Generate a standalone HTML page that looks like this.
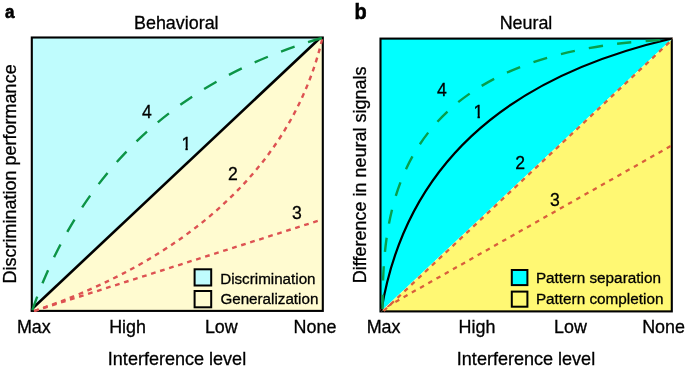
<!DOCTYPE html>
<html lang="en">
<head>
<meta charset="utf-8">
<title>Behavioral and neural discrimination</title>
<style>
html,body{margin:0;padding:0;background:#fff;}
body{width:685px;height:369px;overflow:hidden;}
svg{display:block;}
text{font-family:"Liberation Sans",Arial,Helvetica,sans-serif;fill:#000;stroke:#000;stroke-width:0.3px;}
.t{font-size:17.9px;}
.lg{font-size:15.2px;}
.n{font-size:17.6px;}
.pl{font-size:20.5px;font-weight:bold;fill:#000;}
.grn{fill:none;stroke:#0c9446;stroke-width:2.4;stroke-dasharray:14.3 14.28;stroke-dashoffset:-1;}
.red{fill:none;stroke:#dd5252;stroke-width:2.4;stroke-dasharray:4.75 4.7;}
.rb{stroke:#d95f3c;stroke-width:2.3;stroke-dasharray:4.5 4.95;}
.blk{fill:none;stroke:#000;stroke-width:2.6;}
</style>
</head>
<body>
<svg width="685" height="369" viewBox="0 0 685 369">
<rect x="0" y="0" width="685" height="369" fill="#ffffff"/>

<!-- ================= Panel a ================= -->
<defs><clipPath id="clipA"><rect x="30.8" y="36.5" width="293" height="275.4"/></clipPath><clipPath id="clipB"><rect x="379.3" y="37.6" width="293.5" height="274.7"/></clipPath><clipPath id="oneA"><rect x="176.30" y="129.70" width="20" height="17.60"/><rect x="185.42" y="145.70" width="2.35" height="5"/></clipPath><clipPath id="oneB"><rect x="468.40" y="98.00" width="20" height="17.60"/><rect x="477.52" y="114.00" width="2.35" height="5"/></clipPath></defs>
<g id="panel-a">
  <rect x="31.8" y="37.5" width="291" height="273.4" fill="#fffbd0"/>
  <polygon points="31.8,37.5 320.3,37.5 31.8,308.9" fill="#bffcfd"/>
  <rect x="31.8" y="37.5" width="291" height="273.4" fill="none" stroke="#000" stroke-width="2.1"/>
  <!-- curves -->
  <g clip-path="url(#clipA)">
  <path class="blk" d="M29.8 311 L320.3 37.8"/>
  <path class="red" style="stroke-dashoffset:6.3" d="M31 312 L321.6 219.7"/>
  <path class="red" style="stroke-dasharray:4.78 4.73;stroke-dashoffset:5.9" d="M31 312.3 C58.7 301.2 275.5 238.8 322.5 37.8"/>
  <path class="grn" d="M32 311 C75.8 184.5 162.6 83.8 322.5 37.8"/>
  </g>
  <!-- curve labels -->
  <text class="n" x="147" y="117.5" text-anchor="middle">4</text>
  <text class="n" x="186.3" y="149.7" text-anchor="middle" clip-path="url(#oneA)">1</text>
  <text class="n" x="232.9" y="180.1" text-anchor="middle">2</text>
  <text class="n" x="296.8" y="218.6" text-anchor="middle">3</text>
  <!-- legend -->
  <rect x="194.6" y="269.3" width="16.6" height="16.2" fill="#bffcfd" stroke="#000" stroke-width="2"/>
  <rect x="194.6" y="291" width="16.6" height="16.3" fill="#fffbd0" stroke="#000" stroke-width="2"/>
  <text class="lg" x="220.2" y="283.5">Discrimination</text>
  <text class="lg" x="220.4" y="304">Generalization</text>
  <!-- titles / axes -->
  <text class="pl" transform="translate(5.1,18.35) scale(0.92,1)" style="font-size:18.5px;stroke-width:0.6px">a</text>
  <text class="t" x="176.3" y="28.5" text-anchor="middle">Behavioral</text>
  <text class="t" style="font-size:18px" transform="translate(16,173.9) rotate(-90)" text-anchor="middle">Discrimination performance</text>
  <text class="t" x="33.85" y="332.7" text-anchor="middle">Max</text>
  <text class="t" x="127.6" y="332.7" text-anchor="middle">High</text>
  <text class="t" x="221.3" y="332.7" text-anchor="middle">Low</text>
  <text class="t" x="315" y="332.7" text-anchor="middle">None</text>
  <text class="t" style="font-size:18.05px" x="177" y="365" text-anchor="middle">Interference level</text>
</g>

<!-- ================= Panel b ================= -->
<g id="panel-b">
  <rect x="380.3" y="38.6" width="291.5" height="272.7" fill="#fff873"/>
  <path d="M379.9 312.4 L379.9 38.6 L672.6 38.6 Z" fill="#00ffff" clip-path="url(#clipB)"/>
  <rect x="380.5" y="38.6" width="291.3" height="272.8" fill="none" stroke="#000" stroke-width="2.1"/>
  <!-- curves -->
  <g clip-path="url(#clipB)">
  <path class="red rb" style="stroke-dashoffset:1.8" d="M380.5 310.3 L672 145.3"/>
  <path d="M381.6 311 L672.8 38.5" fill="none" stroke="#eaffd8" stroke-width="0.9" opacity="0.8"/>
  <path class="red rb" style="stroke-dashoffset:-1" d="M383 311.5 L673.3 38.5"/>
  <path class="blk" style="stroke-width:2.2" d="M381.3 311 C409.1 140.5 538.6 69.3 672 38.5"/>
  <path class="grn" style="stroke-dashoffset:-2;stroke:#089e4c" d="M382.6 311 C382.6 210.6 390.6 49.6 672 39.6"/>
  </g>
  <!-- curve labels -->
  <text class="n" x="441.9" y="96.1" text-anchor="middle">4</text>
  <text class="n" x="478.4" y="118" text-anchor="middle" clip-path="url(#oneB)">1</text>
  <text class="n" x="520.2" y="168.6" text-anchor="middle">2</text>
  <text class="n" x="554.8" y="205.9" text-anchor="middle">3</text>
  <!-- legend -->
  <rect x="511.8" y="270" width="15.6" height="15.1" fill="#00ffff" stroke="#000" stroke-width="2"/>
  <rect x="511.8" y="291.6" width="15.6" height="15.1" fill="#fff873" stroke="#000" stroke-width="2"/>
  <text class="lg" style="font-size:15.3px" x="535.9" y="282.8">Pattern separation</text>
  <text class="lg" style="font-size:15.3px" x="535.9" y="303.6">Pattern completion</text>
  <!-- titles / axes -->
  <text class="pl" transform="translate(354.5,18.9) scale(0.94,1)" style="font-size:21.2px;stroke-width:0.55px">b</text>
  <text class="t" x="526" y="28.5" text-anchor="middle">Neural</text>
  <text class="t" style="font-size:18px" transform="translate(366,174.9) rotate(-90)" text-anchor="middle">Difference in neural signals</text>
  <text class="t" x="383.6" y="332.7" text-anchor="middle">Max</text>
  <text class="t" x="477" y="332.7" text-anchor="middle">High</text>
  <text class="t" x="570.4" y="332.7" text-anchor="middle">Low</text>
  <text class="t" x="663.6" y="332.7" text-anchor="middle">None</text>
  <text class="t" style="font-size:18.05px" x="526" y="365" text-anchor="middle">Interference level</text>
</g>
</svg>
</body>
</html>
